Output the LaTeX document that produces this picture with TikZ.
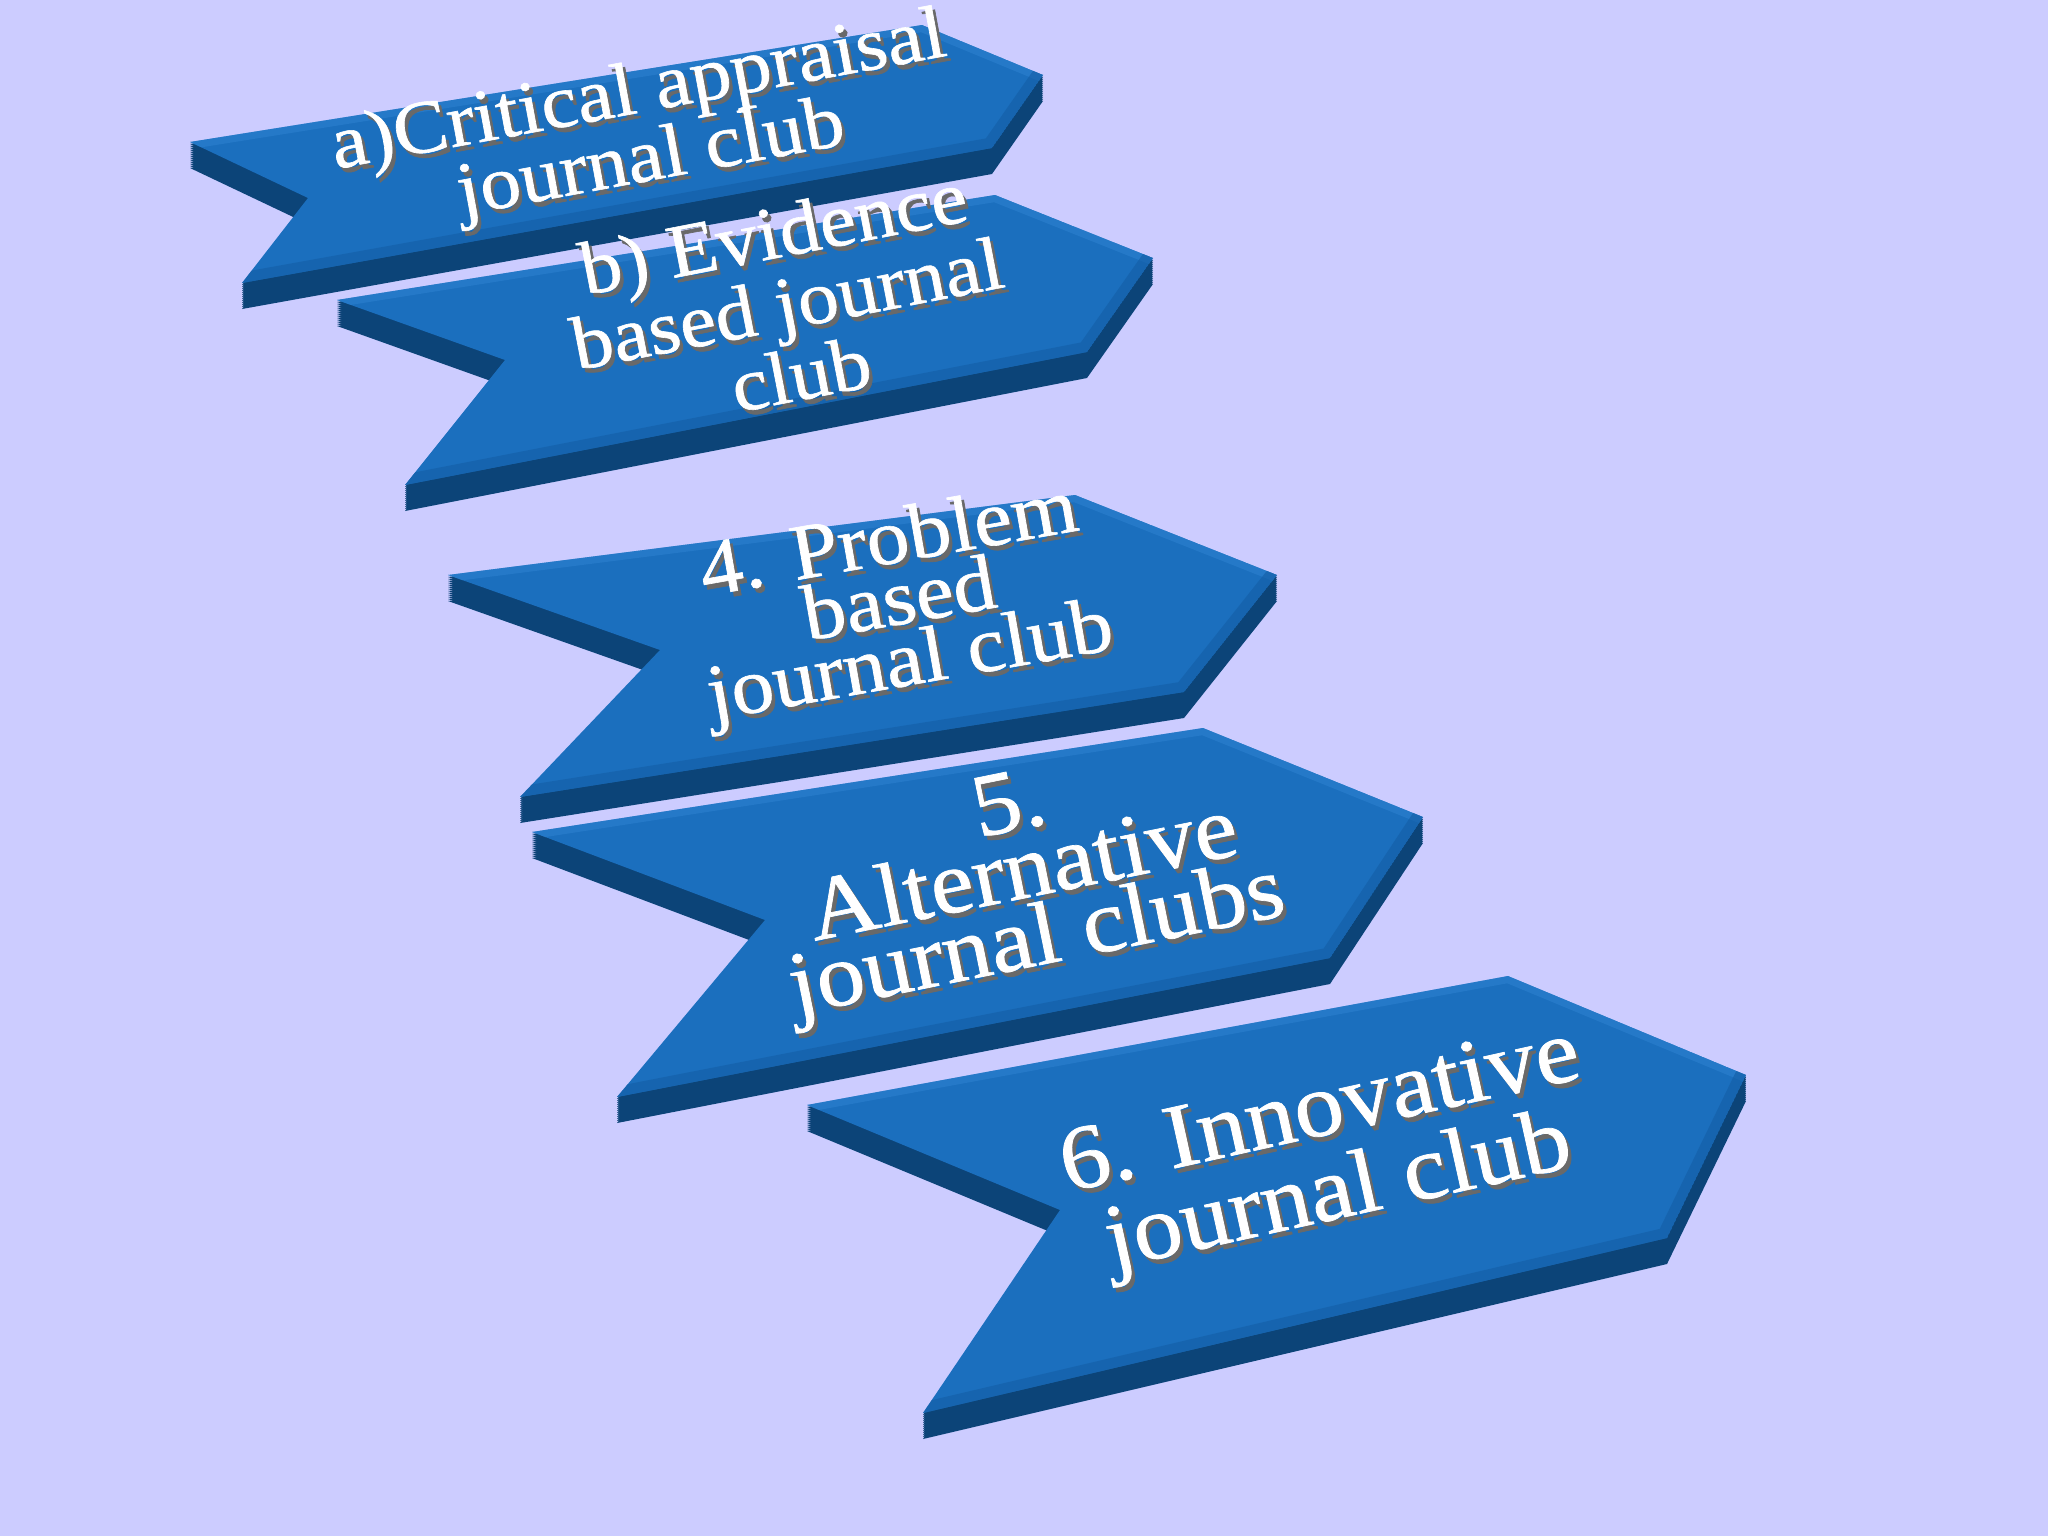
\documentclass[tikz,border=0pt]{standalone}
\usepackage{fontspec}
\setmainfont{Liberation Serif}
\newfontfamily\jcfont{Liberation Serif}[FakeBold=0.8]
\usepackage{tikz}
\usetikzlibrary{calc}

\definecolor{jcbg}{RGB}{204,204,255}
\definecolor{jcblue}{RGB}{27,111,190}
\definecolor{jcdark}{RGB}{12,68,120}
\definecolor{jcbevcol}{RGB}{20,94,166}
\definecolor{jcshinecol}{RGB}{48,132,210}
\definecolor{jcgray}{RGB}{105,105,105}

\tikzset{
  jcside/.style={fill=jcdark},
  jcface/.style={fill=jcblue},
  jcbevel/.style={draw=jcbevcol, line width=6pt, line join=round, opacity=0.6},
  jcshine/.style={draw=jcshinecol, line width=4pt, line join=round, opacity=0.5},
  jctext/.style={text=white, align=center, inner sep=0pt},
  jcshadow/.style={text=jcgray, align=center, inner sep=0pt},
}

% slab arrow: corners back-top, top-right, tip, lower-right, lower-left, notch
\newcommand{\jcslab}[6]{%
  \foreach \s in {2,4,...,26}
    \fill[jcside, shift={(0,\s)}] (#1) -- (#2) -- (#3) -- (#4) -- (#5) -- (#6) -- cycle;
  \begin{scope}
    \clip (#1) -- (#2) -- (#3) -- (#4) -- (#5) -- (#6) -- cycle;
    \fill[jcface] (#1) -- (#2) -- (#3) -- (#4) -- (#5) -- (#6) -- cycle;
    \draw[jcshine] (#1) -- (#2) -- (#3);
    \draw[jcbevel] (#5) -- (#4) -- (#3);
  \end{scope}}

% label: name, position, angle, size, skip, text
\newcommand{\jclabel}[6]{%
  \node[jcshadow, rotate=#3, xscale=1.08, font=\jcfont\fontsize{#4}{#5}\selectfont] (#1-sh) at ([xshift=1pt,yshift=-1.3pt]#2) {#6};
  \node[jctext, rotate=#3, xscale=1.08, font=\jcfont\fontsize{#4}{#5}\selectfont] (#1) at (#2) {#6};}

\begin{document}
\begin{tikzpicture}[x=0.01cm, y=-0.01cm]
  \useasboundingbox (0,0) rectangle (2048,1536);
  % Background
  \fill[jcbg] (0,0) rectangle (2048,1536);
  % Arrows, top to bottom
  \jcslab{190,142}{922,25}{1043,75}{992,148}{242,283}{308,198}
  \jcslab{337,300}{995,195}{1153,258}{1087,352}{405,485}{505,360}
  \jcslab{448,575}{1075,495}{1277,575}{1184,692}{520,797}{660,650}
  \jcslab{532,832}{1203,728}{1423,817}{1330,958}{617,1097}{765,920}
  \jcslab{807,1105}{1508,976}{1746,1075}{1667,1238}{923,1413}{1060,1210}
  % Labels
  \jclabel{critical}{645,128}{10.5}{21.5}{19.5}{a)Critical appraisal\\journal club}
  \jclabel{evidence}{787,303}{11}{21.5}{17}{b) Evidence\\based journal\\club}
  \jclabel{problem}{900,605}{10}{22.5}{17.5}{4. Problem\\based\\journal club}
  \jclabel{alternative}{1024,878}{11.5}{25.5}{19.5}{5.\\Alternative\\journal clubs}
  \jclabel{innovative}{1330,1156}{12.5}{26}{24}{6. Innovative\\journal club}
\end{tikzpicture}
\end{document}
